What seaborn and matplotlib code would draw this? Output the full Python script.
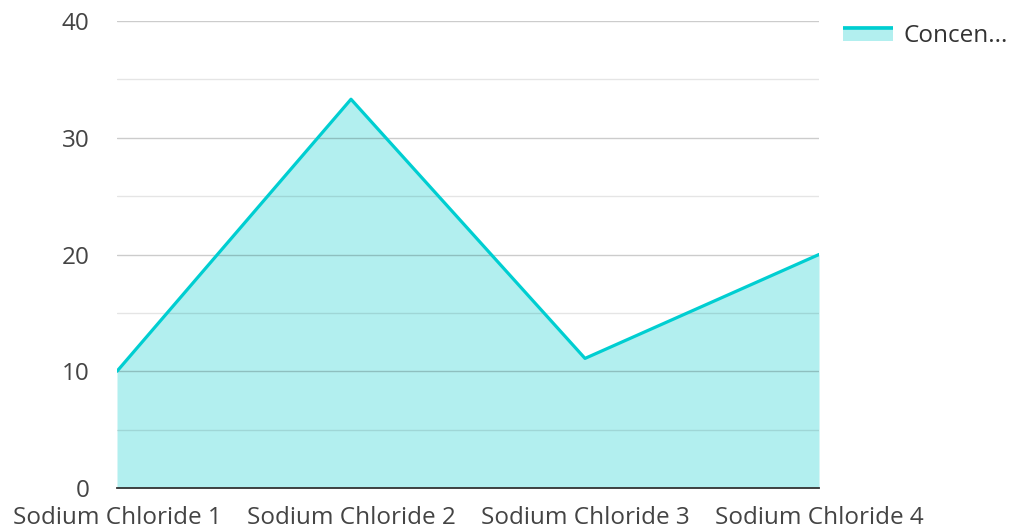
import matplotlib
matplotlib.use("Agg")
import matplotlib.pyplot as plt
import seaborn as sns
import pandas as pd
from matplotlib.patches import Rectangle
from matplotlib.lines import Line2D
from matplotlib.legend_handler import HandlerBase

categories = ["Sodium Chloride 1", "Sodium Chloride 2", "Sodium Chloride 3", "Sodium Chloride 4"]
values = [10.0, 33.3, 11.1, 20.0]
series_name = "Concentration"
legend_label = "Concen..."
y_ticks = [0, 10, 20, 30, 40]
y_minor = [5, 15, 25, 35]

sns.set_theme(style="white")
plt.rcParams['font.family'] = ['Open Sans', 'DejaVu Sans']

LINE = "#00CED1"
FILL = "#B2EFEF"
FS = 17.5

df = pd.DataFrame({"x": range(len(categories)), "y": values, "s": series_name})

fig = plt.figure(figsize=(10.1, 5.29), dpi=100)
ax = fig.add_axes([117/1010, 41/529, (819-117)/1010, (488-21)/529])

ax.fill_between(df["x"], 0, df["y"], color=FILL, linewidth=0, zorder=1)
sns.lineplot(data=df, x="x", y="y", color=LINE, linewidth=2.3, ax=ax, legend=False, zorder=3)

ax.set_xlim(0, len(categories) - 1)
ax.set_ylim(0, 40)
ax.set_yticks(y_ticks)
ax.set_yticks(y_minor, minor=True)
ax.set_xticks(range(len(categories)))
ax.set_xticklabels(categories)
ax.grid(True, which="major", axis="y", color="black", alpha=0.2, linewidth=1, zorder=2)
ax.grid(True, which="minor", axis="y", color="black", alpha=0.1, linewidth=1, zorder=2)
ax.set_axisbelow(False)
for sp in ["left", "right", "top"]:
    ax.spines[sp].set_visible(False)
ax.spines["bottom"].set_color("#333333")
ax.spines["bottom"].set_linewidth(1.3)
ax.spines["bottom"].set_zorder(4)
ax.tick_params(axis="both", which="both", length=0, labelsize=FS, colors="#444444")
ax.tick_params(axis="x", pad=13)
ax.tick_params(axis="y", pad=20)
ax.set_xlabel("")
ax.set_ylabel("")


class AreaHandler(HandlerBase):
    def create_artists(self, legend, orig_handle, xdescent, ydescent, width, height, fontsize, trans):
        r = Rectangle((-xdescent, -ydescent), width, height, facecolor=FILL, edgecolor="none", transform=trans)
        l = Line2D([-xdescent, -xdescent + width], [-ydescent + height - 1.4] * 2, color=LINE, linewidth=2.6,
                   solid_capstyle="butt", transform=trans)
        return [r, l]


handle = Rectangle((0, 0), 1, 1)
leg = fig.legend([handle], [legend_label], handler_map={Rectangle: AreaHandler()},
                 loc="upper left", bbox_to_anchor=(843/1010, 1 - 24/529), frameon=False,
                 fontsize=FS, handlelength=2.06, handleheight=0.62, handletextpad=0.42, borderaxespad=0,
                 borderpad=0)
for t in leg.get_texts():
    t.set_color("#333333")

fig.savefig("out.png", dpi=100)
